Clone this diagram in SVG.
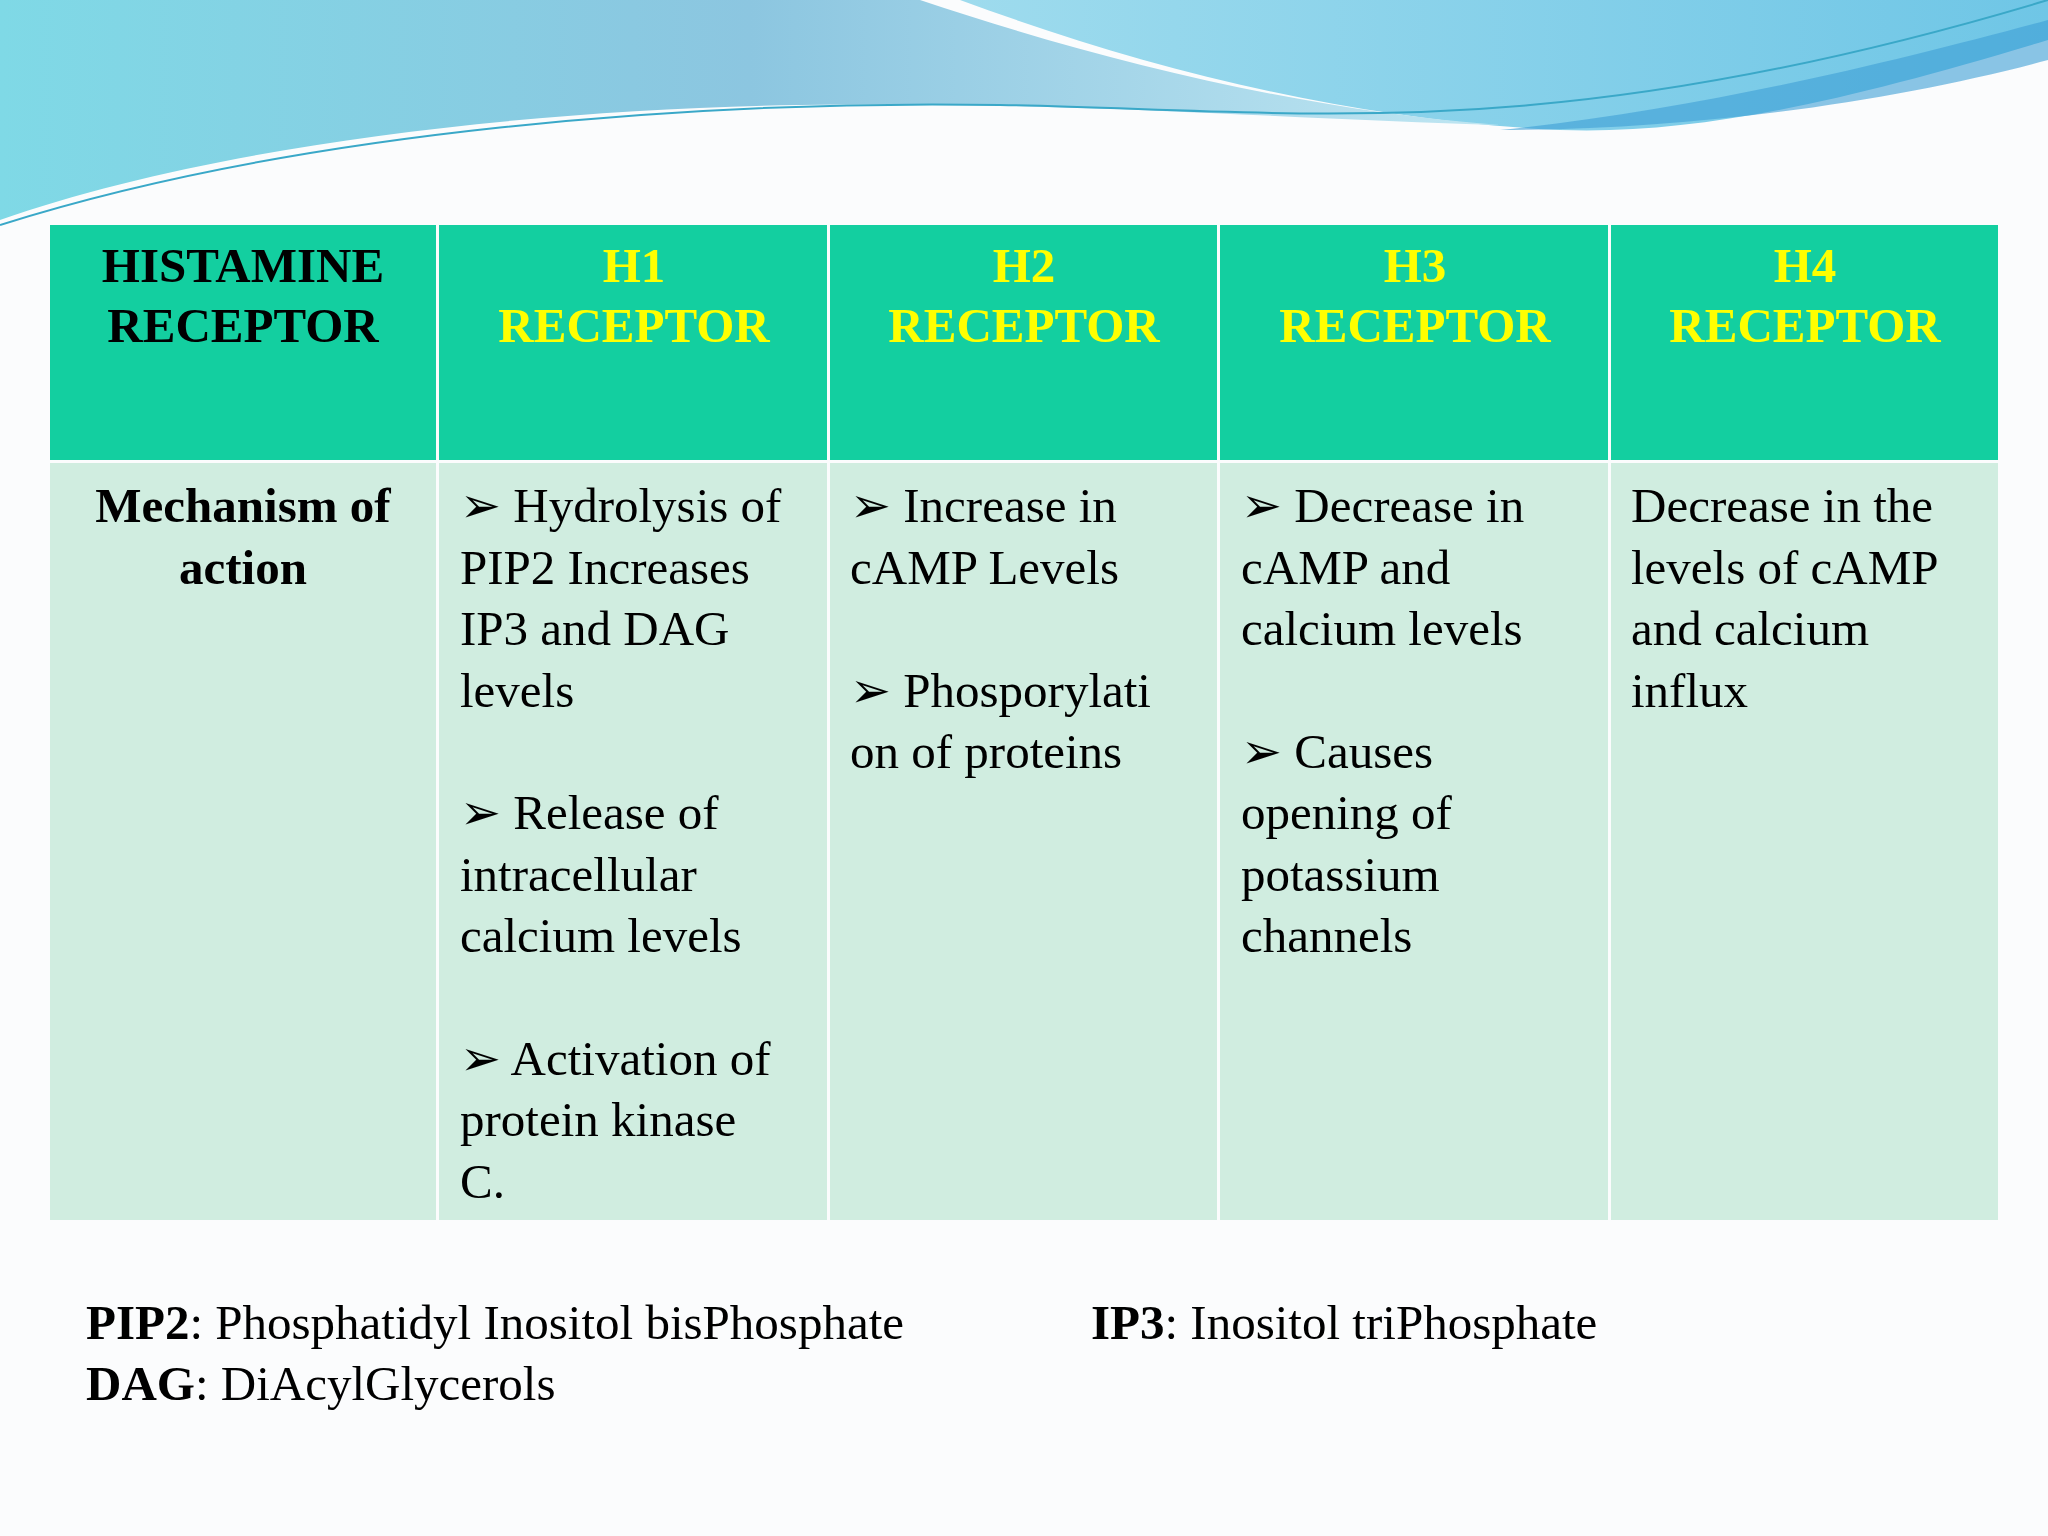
<svg xmlns="http://www.w3.org/2000/svg" width="2048" height="1536" viewBox="0 0 2048 1536">
<defs>
<linearGradient id="wv" x1="0" y1="0" x2="1" y2="0"><stop offset="0" stop-color="#7fd9e6"/><stop offset="0.5" stop-color="#8cc6e0"/><stop offset="1" stop-color="#bfe6f2"/></linearGradient>
<linearGradient id="wv2" x1="0" y1="0" x2="1" y2="0"><stop offset="0" stop-color="#c8eef4"/><stop offset="1" stop-color="#6fc6e6"/></linearGradient>
<style>
.t{font-family:"Liberation Serif","DejaVu Serif",serif;font-size:49px;fill:#000}
.b{font-weight:bold}
.y{fill:#ffff00;font-weight:bold}
.c{text-anchor:middle}
.h{fill:#13cfa0}
.d{fill:#d0ede0}
</style>
</defs>
<rect width="2048" height="1536" fill="#fbfcfd"/>
<g id="wave">
<path d="M0 0H960C1150 70 1350 120 1560 130C1700 135 1850 100 2048 40V0Z" fill="url(#wv2)"/>
<path d="M0 0H920C1100 60 1300 110 1500 125C1300 120 1050 100 800 105C500 110 200 150 0 220Z" fill="url(#wv)"/>
<path d="M0 225C300 130 700 100 1000 105C1300 110 1550 150 2048 0" fill="none" stroke="#3aa8c8" stroke-width="2"/>
<path d="M1500 130C1700 110 1900 60 2048 20V60C1900 100 1700 130 1500 130Z" fill="#3d9ed6" opacity="0.6"/>
</g>
<g id="table">
<rect x="50" y="225" width="386" height="235" class="h"/>
<rect x="439" y="225" width="388" height="235" class="h"/>
<rect x="830" y="225" width="387" height="235" class="h"/>
<rect x="1220" y="225" width="388" height="235" class="h"/>
<rect x="1611" y="225" width="387" height="235" class="h"/>
<rect x="50" y="463" width="386" height="757" class="d"/>
<rect x="439" y="463" width="388" height="757" class="d"/>
<rect x="830" y="463" width="387" height="757" class="d"/>
<rect x="1220" y="463" width="388" height="757" class="d"/>
<rect x="1611" y="463" width="387" height="757" class="d"/>
</g>
<g id="header">
<text class="t b c" x="243" y="282">HISTAMINE</text>
<text class="t b c" x="243" y="342">RECEPTOR</text>
<text class="t y c" x="634" y="282">H1</text><text class="t y c" x="634" y="342">RECEPTOR</text>
<text class="t y c" x="1024" y="282">H2</text><text class="t y c" x="1024" y="342">RECEPTOR</text>
<text class="t y c" x="1415" y="282">H3</text><text class="t y c" x="1415" y="342">RECEPTOR</text>
<text class="t y c" x="1805" y="282">H4</text><text class="t y c" x="1805" y="342">RECEPTOR</text>
</g>
<g id="col1"><text class="t b c" x="243" y="522">Mechanism of</text><text class="t b c" x="243" y="584">action</text></g>
<g id="col2">
<text class="t" x="460" y="522">➢ Hydrolysis of</text>
<text class="t" x="460" y="584">PIP2 Increases</text>
<text class="t" x="460" y="645">IP3 and DAG</text>
<text class="t" x="460" y="707">levels</text>
<text class="t" x="460" y="829">➢ Release of</text>
<text class="t" x="460" y="891">intracellular</text>
<text class="t" x="460" y="952">calcium levels</text>
<text class="t" x="460" y="1075">➢ Activation of</text>
<text class="t" x="460" y="1136">protein kinase</text>
<text class="t" x="460" y="1198">C.</text>
</g>
<g id="col3">
<text class="t" x="850" y="522">➢ Increase in</text>
<text class="t" x="850" y="584">cAMP Levels</text>
<text class="t" x="850" y="707">➢ Phosporylati</text>
<text class="t" x="850" y="768">on of proteins</text>
</g>
<g id="col4">
<text class="t" x="1241" y="522">➢ Decrease in</text>
<text class="t" x="1241" y="584">cAMP and</text>
<text class="t" x="1241" y="645">calcium levels</text>
<text class="t" x="1241" y="768">➢ Causes</text>
<text class="t" x="1241" y="829">opening of</text>
<text class="t" x="1241" y="891">potassium</text>
<text class="t" x="1241" y="952">channels</text>
</g>
<g id="col5">
<text class="t" x="1631" y="522">Decrease in the</text>
<text class="t" x="1631" y="584">levels of cAMP</text>
<text class="t" x="1631" y="645">and calcium</text>
<text class="t" x="1631" y="707">influx</text>
</g>
<g id="footer">
<text class="t" x="86" y="1339"><tspan class="b">PIP2</tspan>: Phosphatidyl Inositol bisPhosphate</text>
<text class="t" x="1091" y="1339"><tspan class="b">IP3</tspan>: Inositol triPhosphate</text>
<text class="t" x="86" y="1400"><tspan class="b">DAG</tspan>: DiAcylGlycerols</text>
</g>
</svg>
